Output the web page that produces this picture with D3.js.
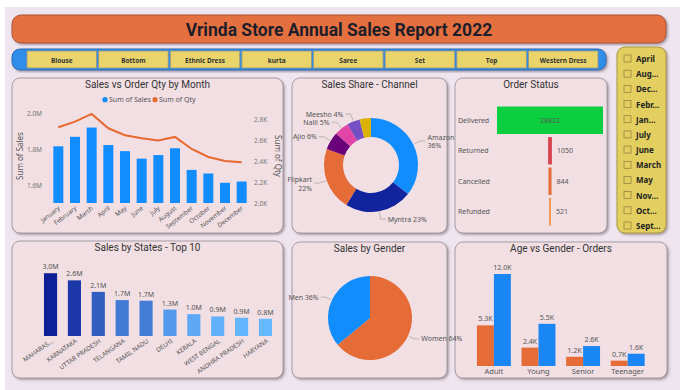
<!DOCTYPE html>
<html>
<head>
<meta charset="utf-8">
<script src="https://cdn.jsdelivr.net/npm/d3@7"></script>
<style>
  body { margin: 0; background: #ffffff; }
  svg { display: block; font-family: "Noto Sans", sans-serif; }
  .ptitle { font-family: Roboto, sans-serif; font-size: 10px; fill: #333; }
  .lbl { font-size: 7px; fill: #555; }
</style>
</head>
<body>
<div id="container"></div>
<script>
/* DATA */
const categories = ["Blouse", "Bottom", "Ethnic Dress", "kurta", "Saree", "Set", "Top", "Western Dress"];
const slicerMonths = ["April", "Aug...", "Dec...", "Febr...", "Jan...", "July", "June", "March", "May", "Nov...", "Oct...", "Sept..."];

const months = ["January", "February", "March", "April", "May", "June", "July", "August", "September", "October", "November", "December"];
const salesByMonth = [1817000, 1870000, 1922000, 1824000, 1790000, 1748000, 1768000, 1806000, 1685000, 1665000, 1613000, 1620000];
const qtyByMonth = [2721, 2774, 2848, 2711, 2645, 2616, 2594, 2629, 2514, 2438, 2400, 2388];

const channels = ["Amazon", "Myntra", "Flipkart", "Ajio", "Nalli", "Meesho", "Others"];
const channelShare = [35.6, 23.2, 21.7, 6.2, 5.0, 4.4, 3.9];

const statuses = ["Delivered", "Returned", "Cancelled", "Refunded"];
const statusCounts = [28822, 1050, 844, 521];

const states = ["MAHARASHTRA", "KARNATAKA", "UTTAR PRADESH", "TELANGANA", "TAMIL NADU", "DELHI", "KERALA", "WEST BENGAL", "ANDHRA PRADESH", "HARYANA"];
const stateSales = [2990000, 2650000, 2100000, 1710000, 1680000, 1260000, 1040000, 930000, 870000, 820000];

const genders = ["Women", "Men"];
const genderShare = [64, 36];

const ageGroups = ["Adult", "Young", "Senior", "Teenager"];
const menOrders = [5300, 2400, 1200, 700];
const womenOrders = [12000, 5500, 2600, 1600];

/* SETUP */
const width = 680, height = 390;
const svg = d3.select("#container").append("svg")
  .attr("width", width).attr("height", height);

const defs = svg.append("defs");
const shadow = defs.append("filter").attr("id", "shadow")
  .attr("x", "-5%").attr("y", "-5%").attr("width", "115%").attr("height", "115%");
shadow.append("feDropShadow").attr("dx", 1.5).attr("dy", 1.5)
  .attr("stdDeviation", 1.2).attr("flood-color", "#6a5a64").attr("flood-opacity", 0.55);

svg.append("rect").attr("x", 5).attr("y", 7).attr("width", 675).attr("height", 383)
  .attr("fill", "#efe5ee");

// header
svg.append("rect").attr("x", 12).attr("y", 15).attr("width", 654).attr("height", 28).attr("rx", 9)
  .attr("fill", "#e4703f").attr("stroke", "#a9563a").attr("filter", "url(#shadow)");
svg.append("text").attr("x", 339).attr("y", 35.5).attr("text-anchor", "middle")
  .style("font-family", "Roboto, sans-serif").style("font-weight", 700).style("font-size", "17.5px")
  .attr("fill", "#1e1e2a").text("Vrinda Store Annual Sales Report 2022");

// category slicer
svg.append("rect").attr("x", 12).attr("y", 49).attr("width", 594).attr("height", 21).attr("rx", 8)
  .attr("fill", "#2f8eea").attr("stroke", "#2a6cb8").attr("filter", "url(#shadow)");
const catX = d3.scaleBand().domain(categories).range([27, 598]).paddingInner(0.03);
const btn = svg.append("g").selectAll("g").data(categories).join("g")
  .attr("transform", d => `translate(${catX(d)},51)`);
btn.append("rect").attr("width", catX.bandwidth()).attr("height", 17)
  .attr("fill", "#e9d46c").attr("stroke", "#9c9478").attr("stroke-width", 0.8);
btn.append("text").attr("x", catX.bandwidth() / 2).attr("y", 11.5).attr("text-anchor", "middle")
  .style("font-size", "6.5px").style("font-weight", 700).attr("fill", "#333").text(d => d);

// month slicer
svg.append("rect").attr("x", 617).attr("y", 47).attr("width", 49).attr("height", 186).attr("rx", 8)
  .attr("fill", "#e3cf5f").attr("stroke", "#a8983e").attr("filter", "url(#shadow)");
const monY = d3.scalePoint().domain(slicerMonths).range([59, 226]);
const mItem = svg.append("g").selectAll("g").data(slicerMonths).join("g")
  .attr("transform", d => `translate(624,${monY(d)})`);
mItem.append("rect").attr("x", 0).attr("y", -4).attr("width", 7).attr("height", 7)
  .attr("fill", "none").attr("stroke", "#8a7c3c").attr("stroke-width", 0.7);
mItem.append("text").attr("x", 12).attr("y", 3).style("font-size", "8px").style("font-weight", 700)
  .attr("fill", "#222").text(d => d);

// panels
const panels = [
  {x: 12, y: 78, w: 271, h: 155, t: "Sales vs Order Qty by Month"},
  {x: 292, y: 78, w: 155, h: 155, t: "Sales Share - Channel"},
  {x: 455, y: 78, w: 152, h: 155, t: "Order Status"},
  {x: 12, y: 241, w: 271, h: 137, t: "Sales by States - Top 10"},
  {x: 292, y: 242, w: 155, h: 136, t: "Sales by Gender"},
  {x: 455, y: 242, w: 212, h: 136, t: "Age vs Gender - Orders"}
];
panels.forEach(p => {
  svg.append("rect").attr("x", p.x).attr("y", p.y).attr("width", p.w).attr("height", p.h).attr("rx", 8)
    .attr("fill", "#f1dfe3").attr("stroke", "#9a8d94").attr("stroke-width", 0.8).attr("filter", "url(#shadow)");
  svg.append("text").attr("class", "ptitle").attr("x", p.x + p.w / 2).attr("y", p.y + 10)
    .attr("text-anchor", "middle").text(p.t);
});

const fmtM = v => (v / 1e6).toFixed(1) + "M";
const fmtK = v => (v / 1e3).toFixed(1) + "K";

/* 1. SALES VS QTY BY MONTH */
const x1 = d3.scaleBand().domain(months).range([50, 250]).paddingInner(0.4).paddingOuter(0.2);
const ySales = d3.scaleLinear().domain([1500000, 2020000]).range([203, 110]);
const yQty = d3.scaleLinear().domain([2000, 2885]).range([203, 110]);

const axL = svg.append("g").attr("transform", "translate(45,0)")
  .call(d3.axisLeft(ySales).tickValues([1600000, 1800000, 2000000]).tickFormat(fmtM).tickSize(0));
const axR = svg.append("g").attr("transform", "translate(251,0)")
  .call(d3.axisRight(yQty).tickValues([2000, 2200, 2400, 2600, 2800]).tickFormat(fmtK).tickSize(0));
[axL, axR].forEach(a => {
  a.select(".domain").remove();
  a.selectAll("text").style("font-size", "6.5px").attr("fill", "#777").style("font-family", "Noto Sans");
});

svg.append("g").selectAll("rect").data(months).join("rect")
  .attr("x", d => x1(d)).attr("width", x1.bandwidth())
  .attr("y", (d, i) => ySales(salesByMonth[i]))
  .attr("height", (d, i) => ySales(1500000) - ySales(salesByMonth[i]))
  .attr("fill", "#118dff");

svg.append("path").datum(qtyByMonth)
  .attr("d", d3.line().x((d, i) => x1(months[i]) + x1.bandwidth() / 2).y(d => yQty(d)))
  .attr("fill", "none").attr("stroke", "#e8692f").attr("stroke-width", 2);

svg.append("g").selectAll("text").data(months).join("text")
  .attr("class", "lbl").style("font-size", "6.3px").attr("fill", "#666")
  .attr("text-anchor", "end")
  .attr("transform", d => `translate(${x1(d) + x1.bandwidth() / 2 + 2},209) rotate(-38)`)
  .text(d => d);

svg.append("text").attr("class", "lbl").style("font-size", "8px").attr("fill", "#555")
  .attr("text-anchor", "middle").attr("transform", "translate(23,156) rotate(-90)").text("Sum of Sales");
svg.append("text").attr("class", "lbl").style("font-size", "8px").attr("fill", "#555")
  .attr("text-anchor", "middle").attr("transform", "translate(275,156) rotate(90)").text("Sum of Qty");

const leg = svg.append("g").attr("transform", "translate(0,102)");
leg.append("circle").attr("cx", 105).attr("cy", -2.3).attr("r", 2.6).attr("fill", "#118dff");
leg.append("text").attr("class", "lbl").attr("x", 109).attr("y", 0).style("font-size", "7px").attr("fill", "#777").text("Sum of Sales");
leg.append("circle").attr("cx", 155).attr("cy", -2.3).attr("r", 2.6).attr("fill", "#e8692f");
leg.append("text").attr("class", "lbl").attr("x", 159).attr("y", 0).style("font-size", "7px").attr("fill", "#777").text("Sum of Qty");

/* 2. CHANNEL DONUT */
const chColor = d3.scaleOrdinal().domain(channels)
  .range(["#118dff", "#12239e", "#e66c37", "#6b007b", "#e044a7", "#744ec2", "#d9b300"]);
const chPie = d3.pie().sort(null).value(d => d.v)(channels.map((c, i) => ({c, v: channelShare[i]})));
const donut = svg.append("g").attr("transform", "translate(371,165)");
const arcD = d3.arc().innerRadius(28).outerRadius(47);
donut.selectAll("path").data(chPie).join("path").attr("d", arcD).attr("fill", d => chColor(d.data.c));

const twoLine = ["Amazon", "Flipkart"];
chPie.filter(d => d.data.c !== "Others").forEach(d => {
  const a = (d.startAngle + d.endAngle) / 2;
  const p0 = [Math.sin(a) * 48, -Math.cos(a) * 48];
  const p1 = [Math.sin(a) * 55, -Math.cos(a) * 55];
  const side = Math.sin(a) >= 0 ? 1 : -1;
  const p2 = [p1[0] + side * 5, p1[1]];
  donut.append("polyline").attr("points", [p0, p1, p2].map(p => p.join(",")).join(" "))
    .attr("fill", "none").attr("stroke", "#999").attr("stroke-width", 0.6);
  const pct = Math.round(d.data.v) + "%";
  const t = donut.append("text").attr("class", "lbl").attr("text-anchor", side > 0 ? "start" : "end")
    .attr("x", p2[0] + side * 2).attr("y", p2[1] + 2.5);
  if (twoLine.includes(d.data.c)) {
    t.attr("y", p2[1] - 1);
    t.append("tspan").text(d.data.c);
    t.append("tspan").attr("x", p2[0] + side * 2).attr("dy", 8.5).text(pct);
  } else {
    t.text(d.data.c + " " + pct);
  }
});

/* 3. ORDER STATUS FUNNEL */
const yS = d3.scaleBand().domain(statuses).range([105, 227]).paddingInner(0.1).paddingOuter(0.05);
const wS = d3.scaleLinear().domain([0, d3.max(statusCounts)]).range([0, 106]);
const stColor = d3.scaleOrdinal().domain(statuses).range(["#0ccf3f", "#d64550", "#e66c37", "#f2964f"]);
const fx = 550;
const st = svg.append("g").selectAll("g").data(statuses).join("g");
st.append("rect")
  .attr("x", (d, i) => fx - wS(statusCounts[i]) / 2).attr("width", (d, i) => wS(statusCounts[i]))
  .attr("y", d => yS(d)).attr("height", yS.bandwidth()).attr("fill", d => stColor(d));
st.append("text").attr("class", "lbl").attr("x", 458).attr("y", d => yS(d) + yS.bandwidth() / 2 + 2.5)
  .style("font-size", "7px").attr("fill", "#888").text(d => d);
st.append("text").attr("class", "lbl").style("font-size", "7px").attr("fill", "#333")
  .attr("text-anchor", (d, i) => i === 0 ? "middle" : "start")
  .attr("x", (d, i) => i === 0 ? fx : fx + wS(statusCounts[i]) / 2 + 5)
  .attr("y", d => yS(d) + yS.bandwidth() / 2 + 2.5)
  .text((d, i) => statusCounts[i]);

/* 4. SALES BY STATES */
const xSt = d3.scaleBand().domain(states).range([38, 278]).paddingInner(0.45).paddingOuter(0.25);
const ySt = d3.scaleLinear().domain([0, 3000000]).range([336, 273]);
const stateColor = d3.scaleLinear().domain([d3.min(stateSales), d3.max(stateSales)])
  .range(["#66b9ff", "#0e1f98"]).interpolate(d3.interpolateRgb);
const sg = svg.append("g").selectAll("g").data(states).join("g");
sg.append("rect").attr("x", d => xSt(d)).attr("width", xSt.bandwidth())
  .attr("y", (d, i) => ySt(stateSales[i])).attr("height", (d, i) => ySt(0) - ySt(stateSales[i]))
  .attr("fill", (d, i) => stateColor(stateSales[i]));
sg.append("text").attr("class", "lbl").attr("text-anchor", "middle").attr("fill", "#444")
  .attr("x", d => xSt(d) + xSt.bandwidth() / 2).attr("y", (d, i) => ySt(stateSales[i]) - 4)
  .text((d, i) => fmtM(stateSales[i]));
sg.append("text").attr("class", "lbl").style("font-size", "6.3px").attr("fill", "#555")
  .attr("text-anchor", "end")
  .attr("transform", d => `translate(${xSt(d) + xSt.bandwidth() / 2 + 3},342) rotate(-35)`)
  .text(d => d)
  .each(function(d) {
    const el = d3.select(this);
    const room = (xSt(d) + xSt.bandwidth() / 2 - 20) / Math.cos(35 * Math.PI / 180);
    let s = d;
    while (this.getComputedTextLength() > room && s.length > 3) {
      s = s.slice(0, -1);
      el.text(s + "...");
    }
  });

/* 5. SALES BY GENDER */
const gColor = d3.scaleOrdinal().domain(genders).range(["#e66c37", "#118dff"]);
const gPie = d3.pie().sort(null).value(d => d.v)(genders.map((g, i) => ({g, v: genderShare[i]})));
const pie = svg.append("g").attr("transform", "translate(370,318)");
pie.selectAll("path").data(gPie).join("path").attr("d", d3.arc().innerRadius(0).outerRadius(42))
  .attr("fill", d => gColor(d.data.g));
gPie.forEach(d => {
  const a = (d.startAngle + d.endAngle) / 2;
  const p0 = [Math.sin(a) * 43, -Math.cos(a) * 43];
  const p1 = [Math.sin(a) * 49, -Math.cos(a) * 49];
  const side = Math.sin(a) >= 0 ? 1 : -1;
  const p2 = [p1[0] + side * 5, p1[1]];
  pie.append("polyline").attr("points", [p0, p1, p2].map(p => p.join(",")).join(" "))
    .attr("fill", "none").attr("stroke", "#999").attr("stroke-width", 0.6);
  pie.append("text").attr("class", "lbl").attr("text-anchor", side > 0 ? "start" : "end")
    .attr("x", p2[0] + side * 2).attr("y", p2[1] + 2.5).text(d.data.g + " " + d.data.v + "%");
});

/* 6. AGE VS GENDER */
const xA = d3.scaleBand().domain(ageGroups).range([471.6, 650]).paddingInner(0.24).paddingOuter(0.12);
const xA2 = d3.scaleBand().domain(["Men", "Women"]).range([0, xA.bandwidth()]);
const yA = d3.scaleLinear().domain([0, 12000]).range([366, 274]);
const ageColor = d3.scaleOrdinal().domain(["Men", "Women"]).range(["#e66c37", "#1a86f5"]);
const ag = svg.append("g").selectAll("g").data(ageGroups).join("g")
  .attr("transform", d => `translate(${xA(d)},0)`);
ag.selectAll("g").data((d, i) => [{k: "Men", v: menOrders[i]}, {k: "Women", v: womenOrders[i]}])
  .join("g")
  .call(g => g.append("rect").attr("x", d => xA2(d.k)).attr("width", xA2.bandwidth())
    .attr("y", d => yA(d.v)).attr("height", d => yA(0) - yA(d.v)).attr("fill", d => ageColor(d.k)))
  .call(g => g.append("text").attr("class", "lbl").attr("text-anchor", "middle").attr("fill", "#444")
    .attr("x", d => xA2(d.k) + xA2.bandwidth() / 2).attr("y", d => yA(d.v) - 4).text(d => fmtK(d.v)));
ag.append("text").attr("class", "lbl").attr("text-anchor", "middle").style("font-size", "7.5px")
  .attr("x", xA.bandwidth() / 2).attr("y", 374).text(d => d);
</script>
</body>
</html>
